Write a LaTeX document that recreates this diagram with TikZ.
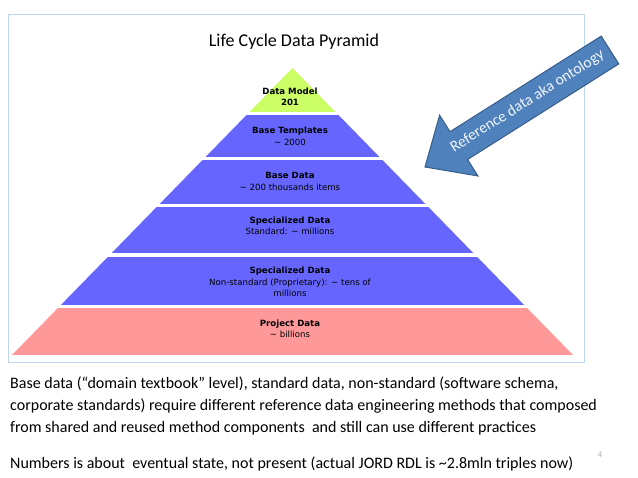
\documentclass[tikz,border=0pt]{standalone}
\usepackage{fontspec}
\setmainfont{Carlito}
\newfontfamily\pyrfont{DejaVu Sans}
\usetikzlibrary{positioning}
\definecolor{framecol}{HTML}{BDD7EE}
\definecolor{modelgreen}{HTML}{CCFF66}
\definecolor{layerblue}{HTML}{6666FF}
\definecolor{projpink}{HTML}{FF9999}
\definecolor{arrowfill}{HTML}{4F81BD}
\definecolor{arrowline}{HTML}{385D8A}

\begin{document}
\begin{tikzpicture}[x=1pt,y=-1pt,
  layer/.style={font=\pyrfont\fontsize{8.6}{11.5}\selectfont, align=center, inner sep=0pt},
  body/.style={font=\fontsize{16}{22}\selectfont, anchor=west, align=left, inner sep=0pt}]
\useasboundingbox (0,0) rectangle (638,478);
\draw[framecol, line width=1pt] (8,15) rectangle (584,363);
\node (title) at (294,42) {\fontsize{18}{20}\selectfont Life Cycle Data Pyramid};

% pyramid, cut into bands
\begin{scope}
\clip (292.5,68) -- (573,355) -- (12,355) -- cycle;
\fill[modelgreen] (0,60) rectangle (638,112);
\fill[layerblue] (0,115) rectangle (638,157);
\fill[layerblue] (0,160) rectangle (638,204);
\fill[layerblue] (0,207) rectangle (638,253);
\fill[layerblue] (0,257) rectangle (638,305);
\fill[projpink] (0,308) rectangle (638,360);
\end{scope}
\node[layer] (model) at (290,97) {\textbf{Data Model}\\\textbf{201}};
\node[layer] (templates) at (290,136.5) {\textbf{Base Templates}\\\textasciitilde{} 2000};
\node[layer] (basedata) at (290,181.5) {\textbf{Base Data}\\\textasciitilde{} 200 thousands items};
\node[layer] (stddata) at (290,226) {\textbf{Specialized Data}\\Standard: \textasciitilde{} millions};
\node[layer] (nonstd) at (290,282) {\textbf{Specialized Data}\\Non-standard (Proprietary): \textasciitilde{} tens of\\millions};
\node[layer] (project) at (290,329) {\textbf{Project Data}\\\textasciitilde{} billions};

% block arrow
\filldraw[fill=arrowfill, draw=arrowline, line width=1pt] (601.2,36.1) -- (618.8,63.9) -- (467.6,159.5) -- (478,176) -- (425,167) -- (439.6,115.2) -- (450,131.7) -- cycle;
\node[rotate=32.3, text=white!92!arrowfill, inner sep=0pt, font=\fontsize{15.5}{15.5}\selectfont] (refdata) at (527.5,101.5) {Reference data aka ontology};

\node[body] (note) at (10,406) {Base data (“domain textbook” level), standard data, non-standard (software schema,\\corporate standards) require different reference data engineering methods that composed\\from shared and reused method components\ \ and still can use different practices};
\node[body] (numbers) at (10,464) {Numbers is about\ \ eventual state, not present (actual JORD RDL is \textasciitilde2.8mln triples now)};
\node[text=gray!60, font=\fontsize{9}{9}\selectfont] (pagenum) at (600,455) {4};
\end{tikzpicture}
\end{document}
